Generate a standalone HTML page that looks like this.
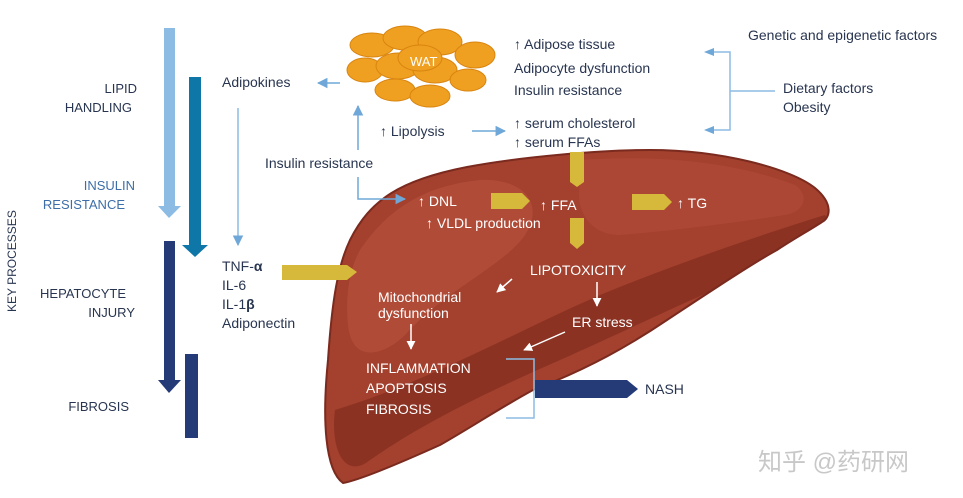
<!DOCTYPE html>
<html><head><meta charset="utf-8"><style>
body{margin:0;background:#fff}
svg{display:block}
text{font-family:"Liberation Sans","Noto Sans CJK SC",sans-serif}
</style></head><body>
<svg width="963" height="498" viewBox="0 0 963 498" xmlns="http://www.w3.org/2000/svg">
<defs>
<marker id="ab" viewBox="0 0 10 10" refX="9" refY="5" markerWidth="7" markerHeight="7" orient="auto"><path d="M0,0 L10,5 L0,10 z" fill="#6fa8d8"/></marker>
<marker id="aw" viewBox="0 0 10 10" refX="9" refY="5" markerWidth="6" markerHeight="6" orient="auto"><path d="M0,0 L10,5 L0,10 z" fill="#fff"/></marker>
<clipPath id="lv"><path id="lp" d="M350,240 C370,200 400,180 467,167 C520,157 600,150 650,150 C720,150 790,168 815,188 C834,204 830,218 822,222 C810,230 795,238 777,250 C755,262 720,285 667,320 C630,345 590,368 533,390 C500,408 470,428 440,445 C400,463 360,480 343,483 C325,470 322,420 328,360 C332,300 338,265 350,240z"/></clipPath>
</defs>
<rect x="164" y="28" width="11" height="180" fill="#8cbce4"/><path d="M158,206 L181,206 L169,218 z" fill="#8cbce4"/>
<rect x="189" y="77" width="12" height="170" fill="#0e77a8"/><path d="M182,245 L208,245 L195,257 z" fill="#0e77a8"/>
<rect x="164" y="241" width="11" height="140" fill="#253b78"/><path d="M158,380 L181,380 L169,393 z" fill="#253b78"/>
<rect x="185" y="354" width="13" height="84" fill="#253b78"/>
<g font-size="13" fill="#283550" text-anchor="end">
<text x="137" y="93">LIPID</text><text x="132" y="112">HANDLING</text>
<text x="135" y="190" fill="#3d6ea8">INSULIN</text><text x="125" y="209" fill="#3d6ea8">RESISTANCE</text>
<text x="126" y="298">HEPATOCYTE</text><text x="135" y="317">INJURY</text>
<text x="129" y="411">FIBROSIS</text>
</g>
<text transform="translate(16,312) rotate(-90)" font-size="12" fill="#283550">KEY PROCESSES</text>
<g font-size="14" fill="#283550">
<text x="222" y="87">Adipokines</text>
<text x="222" y="271">TNF-<tspan font-weight="bold">α</tspan></text>
<text x="222" y="290">IL-6</text>
<text x="222" y="309">IL-1<tspan font-weight="bold">β</tspan></text>
<text x="222" y="328">Adiponectin</text>
<text x="265" y="168">Insulin resistance</text>
</g>
<line x1="238" y1="108" x2="238" y2="245" stroke="#8cbce4" stroke-width="1.5" marker-end="url(#ab)"/>
<line x1="340" y1="83" x2="318" y2="83" stroke="#6fa8d8" stroke-width="1.5" marker-end="url(#ab)"/>
<line x1="358" y1="150" x2="358" y2="106" stroke="#6fa8d8" stroke-width="1.5" marker-end="url(#ab)"/>
<g fill="#f0a020" stroke="#d88410" stroke-width="1">
<ellipse cx="372" cy="45" rx="22" ry="12"/><ellipse cx="405" cy="38" rx="22" ry="12"/><ellipse cx="440" cy="42" rx="22" ry="13"/>
<ellipse cx="475" cy="55" rx="20" ry="13"/><ellipse cx="365" cy="70" rx="18" ry="12"/><ellipse cx="398" cy="66" rx="22" ry="13"/>
<ellipse cx="435" cy="70" rx="22" ry="13"/><ellipse cx="468" cy="80" rx="18" ry="11"/><ellipse cx="395" cy="90" rx="20" ry="11"/>
<ellipse cx="430" cy="96" rx="20" ry="11"/><ellipse cx="420" cy="58" rx="22" ry="13"/>
</g>
<text x="410" y="66" font-size="13" fill="#fff">WAT</text>
<g font-size="14" fill="#283550">
<text x="514" y="49">↑ Adipose tissue</text>
<text x="514" y="73">Adipocyte dysfunction</text>
<text x="514" y="95">Insulin resistance</text>
<text x="380" y="136">↑ Lipolysis</text>
<text x="514" y="128">↑ serum cholesterol</text>
<text x="514" y="147">↑ serum FFAs</text>
<text x="748" y="40">Genetic and epigenetic factors</text>
<text x="783" y="93">Dietary factors</text>
<text x="783" y="112">Obesity</text>
</g>
<line x1="472" y1="131" x2="505" y2="131" stroke="#6fa8d8" stroke-width="1.5" marker-end="url(#ab)"/>
<polyline points="708,52 730,52 730,130 708,130" fill="none" stroke="#8cbce4" stroke-width="1.5"/>
<line x1="730" y1="91" x2="775" y2="91" stroke="#8cbce4" stroke-width="1.5"/>
<path d="M704,52 l10,-4 v8z M704,130 l10,-4 v8z" fill="#6fa8d8"/>
<use href="#lp" fill="#a3402e"/>
<g clip-path="url(#lv)">
<path d="M360,250 C390,205 430,185 480,180 C525,178 545,205 525,235 C505,265 445,290 405,335 C385,355 352,365 348,325 C345,295 350,268 360,250z" fill="#b04b38"/>
<path d="M580,160 C650,155 730,160 795,185 C810,195 805,212 785,215 C720,225 660,232 620,235 C590,235 575,210 580,185z" fill="#ad4735"/>
<path d="M335,410 C420,385 520,330 600,295 C680,262 770,232 825,215 L840,240 C760,265 650,320 560,360 C480,395 420,425 370,460 C345,480 330,450 335,410z" fill="#8b3223"/>
</g>
<use href="#lp" fill="none" stroke="#7a2a1e" stroke-width="2"/>
<polyline points="358,177 358,199 405,199" fill="none" stroke="#6fa8d8" stroke-width="1.5" marker-end="url(#ab)"/>
<g fill="#d6b83a">
<path d="M282,265 H347 L357,272 L347,280 H282z"/>
<path d="M491,193 H522 L530,201 L522,209 H491z"/>
<path d="M632,194 H664 L672,202 L664,210 H632z"/>
<path d="M570,152 H584 V182 L577,187 L570,182z"/>
<path d="M570,218 H584 V243 L577,249 L570,243z"/>
</g>
<g font-size="14" fill="#fff">
<text x="418" y="206">↑ DNL</text>
<text x="426" y="228">↑ VLDL production</text>
<text x="540" y="210">↑ FFA</text>
<text x="677" y="208">↑ TG</text>
<text x="530" y="275">LIPOTOXICITY</text>
<text x="378" y="302">Mitochondrial</text>
<text x="378" y="318">dysfunction</text>
<text x="572" y="327">ER stress</text>
<text x="366" y="373">INFLAMMATION</text>
<text x="366" y="393">APOPTOSIS</text>
<text x="366" y="414">FIBROSIS</text>
</g>
<line x1="512" y1="279" x2="497" y2="292" stroke="#fff" stroke-width="1.5" marker-end="url(#aw)"/>
<line x1="597" y1="282" x2="597" y2="306" stroke="#fff" stroke-width="1.5" marker-end="url(#aw)"/>
<line x1="411" y1="324" x2="411" y2="349" stroke="#fff" stroke-width="1.5" marker-end="url(#aw)"/>
<line x1="565" y1="332" x2="524" y2="350" stroke="#fff" stroke-width="1.5" marker-end="url(#aw)"/>
<polyline points="506,359 534,359 534,418 506,418" fill="none" stroke="#8cbce4" stroke-width="1.5"/>
<path d="M535,380 H627 L638,389 L627,398 H535z" fill="#253b78"/>
<text x="645" y="394" font-size="14" fill="#283550">NASH</text>
<text x="758" y="470" font-size="24" fill="#c8c8c8">知乎 @药研网</text>
</svg>
</body></html>
